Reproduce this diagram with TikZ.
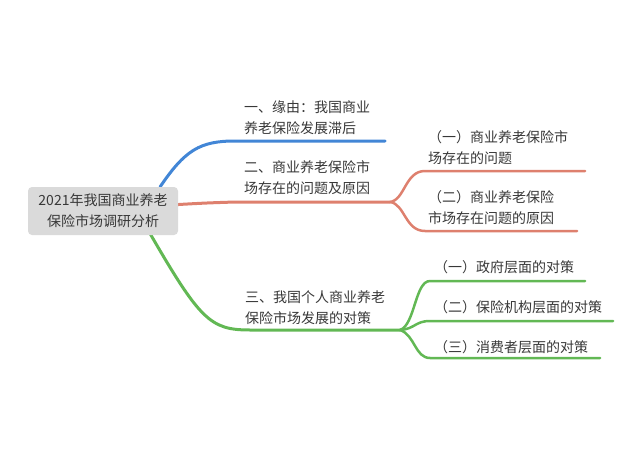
\documentclass[tikz,border=0pt]{standalone}
\usepackage{fontspec}
\setmainfont{Noto Sans CJK SC}
\definecolor{boxgray}{RGB}{218,218,218}
\definecolor{txtgray}{RGB}{56,56,56}
\definecolor{blueln}{RGB}{66,134,214}
\definecolor{redln}{RGB}{222,128,110}
\definecolor{greenln}{RGB}{98,184,84}
\begin{document}
\begin{tikzpicture}[x=1pt,y=-1pt,
	txt/.style={anchor=west,align=left,inner sep=0pt,text=txtgray,font=\fontsize{14}{21}\selectfont},
	br/.style={line width=3pt,line cap=round},
	sub/.style={line width=2.5pt,line cap=round}]
\useasboundingbox (0,0) rectangle (640,452);
\coordinate (reasonL) at (235,141);
\coordinate (reasonR) at (385,141);
\coordinate (problemL) at (235,202);
\coordinate (problemR) at (390,202);
\coordinate (prob1L) at (425,171);
\coordinate (prob1R) at (585,171);
\coordinate (prob2L) at (425,231);
\coordinate (prob2R) at (577,231);
\coordinate (policyL) at (250,330);
\coordinate (policyR) at (400,330);
\coordinate (pol1L) at (430,281);
\coordinate (pol1R) at (585,281);
\coordinate (pol2L) at (430,321);
\coordinate (pol2R) at (613,321);
\coordinate (pol3L) at (430,358);
\coordinate (pol3R) at (600,358);
\draw [br,blueln] (160,187) .. controls (185,150) and (200,141) .. (reasonL) -- (reasonR);
\draw [br,redln] (170,205) .. controls (205,203) .. (problemL) -- (problemR);
\draw [sub,redln] (problemR) .. controls (405,200) and (405,171) .. (prob1L) -- (prob1R);
\draw [sub,redln] (problemR) .. controls (405,204) and (405,231) .. (prob2L) -- (prob2R);
\draw [br,greenln] (148,230) .. controls (200,320) and (210,330) .. (policyL) -- (policyR);
\draw [sub,greenln] (policyR) .. controls (415,325) and (415,281) .. (pol1L) -- (pol1R);
\draw [sub,greenln] (policyR) .. controls (415,329) and (415,321) .. (pol2L) -- (pol2R);
\draw [sub,greenln] (policyR) .. controls (415,335) and (415,358) .. (pol3L) -- (pol3R);
\node (root) [fill=boxgray,rounded corners=4pt,minimum width=150pt,minimum height=48pt,inner sep=0pt,align=center,text=txtgray,font=\fontsize{14}{21}\selectfont] at (103,211) {2021年我国商业养老\\保险市场调研分析};
\node (reason) [txt] at (244,117.5) {一、缘由：我国商业\\养老保险发展滞后};
\node (problem) [txt] at (244,177.5) {二、商业养老保险市\\场存在的问题及原因};
\node (prob1) [txt] at (428,147.5) {（一）商业养老保险市\\场存在的问题};
\node (prob2) [txt] at (428,208) {（二）商业养老保险\\市场存在问题的原因};
\node (policy) [txt] at (245,307.5) {三、我国个人商业养老\\保险市场发展的对策};
\node (pol1) [txt] at (434,267) {（一）政府层面的对策};
\node (pol2) [txt] at (434,307) {（二）保险机构层面的对策};
\node (pol3) [txt] at (434,347) {（三）消费者层面的对策};
\end{tikzpicture}
\end{document}
